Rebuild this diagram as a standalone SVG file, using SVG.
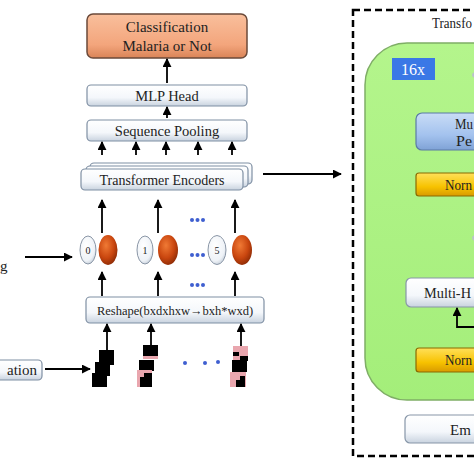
<svg xmlns="http://www.w3.org/2000/svg" width="474" height="474" viewBox="0 0 474 474">
<defs>
<linearGradient id="gWhite" x1="0" y1="0" x2="0" y2="1">
<stop offset="0" stop-color="#ffffff"/><stop offset="0.6" stop-color="#f4f7fb"/><stop offset="1" stop-color="#c9d3df"/>
</linearGradient>
<linearGradient id="gOrange" x1="0" y1="0" x2="0" y2="1">
<stop offset="0" stop-color="#f9bf9c"/><stop offset="0.7" stop-color="#f3a57c"/><stop offset="1" stop-color="#d98457"/>
</linearGradient>
<linearGradient id="gBlue" x1="0" y1="0" x2="0" y2="1">
<stop offset="0" stop-color="#c9dcf6"/><stop offset="0.6" stop-color="#a3c2ee"/><stop offset="1" stop-color="#7fa2d6"/>
</linearGradient>
<linearGradient id="gYellow" x1="0" y1="0" x2="0" y2="1">
<stop offset="0" stop-color="#ffe05a"/><stop offset="0.6" stop-color="#f7c200"/><stop offset="1" stop-color="#d89a00"/>
</linearGradient>
<linearGradient id="gGreen" x1="0" y1="0" x2="0" y2="1">
<stop offset="0" stop-color="#b4f58c"/><stop offset="1" stop-color="#a4ee7a"/>
</linearGradient>
<radialGradient id="gBall" cx="0.4" cy="0.35" r="0.7">
<stop offset="0" stop-color="#f07a35"/><stop offset="0.6" stop-color="#c9460f"/><stop offset="1" stop-color="#8a2a05"/>
</radialGradient>
<radialGradient id="gEgg" cx="0.4" cy="0.35" r="0.75">
<stop offset="0" stop-color="#ffffff"/><stop offset="0.7" stop-color="#eef2f7"/><stop offset="1" stop-color="#b8c3d0"/>
</radialGradient>
<marker id="ah" viewBox="0 0 10 10" refX="9" refY="5" markerWidth="5" markerHeight="5" orient="auto-start-reverse">
<path d="M0,0 L10,5 L0,10 z" fill="#000"/>
</marker>
</defs>
<style>
.t{font-family:"Liberation Serif","DejaVu Serif",serif;fill:#222;text-anchor:middle}
.s{font-family:"Liberation Serif","DejaVu Serif",serif;fill:#222}
.box{fill:url(#gWhite);stroke:#7f8fa3;stroke-width:1.2}
.egg{fill:url(#gEgg);stroke:#8a96a6;stroke-width:1}
.ball{fill:url(#gBall)}
.arr{stroke:#000;stroke-width:1.8;fill:none;marker-end:url(#ah)}
.dot{fill:#3f5fd0}
.blk{fill:#000}
.pink{fill:#e9a6ae}
</style>
<rect width="474" height="474" fill="#fff"/>

<g id="classification">
<rect x="87" y="14" width="160" height="44" rx="6" fill="url(#gOrange)" stroke="#6b4a3a" stroke-width="1.5"/>
<text class="t" x="167" y="32" font-size="15">Classification</text>
<text class="t" x="167" y="51" font-size="15">Malaria or Not</text>
</g>
<g id="mlp-head">
<rect class="box" x="87" y="85" width="160" height="21" rx="4"/>
<text class="t" x="167" y="101" font-size="14.5">MLP Head</text>
</g>
<g id="sequence-pooling">
<rect class="box" x="87" y="120" width="160" height="21" rx="4"/>
<text class="t" x="167" y="136" font-size="14.5">Sequence Pooling</text>
</g>
<g id="transformer-encoders">
<rect class="box" x="90" y="163" width="162" height="21" rx="4"/>
<rect class="box" x="86" y="166" width="162" height="21" rx="4"/>
<rect class="box" x="81" y="169" width="162" height="21" rx="4"/>
<text class="t" x="162" y="185" font-size="14">Transformer Encoders</text>
</g>
<g id="tokens">
<ellipse class="egg" cx="88" cy="250" rx="8" ry="14"/>
<text class="t" x="88" y="254" font-size="10">0</text>
<ellipse class="ball" cx="108" cy="250" rx="9.5" ry="15"/>
<ellipse class="egg" cx="145" cy="250" rx="8" ry="14"/>
<text class="t" x="145" y="254" font-size="10">1</text>
<ellipse class="ball" cx="168" cy="250" rx="10" ry="15"/>
<ellipse class="egg" cx="217" cy="250" rx="9" ry="14.5"/>
<text class="t" x="217" y="254" font-size="10">5</text>
<ellipse class="ball" cx="242" cy="250" rx="10" ry="15"/>
<circle class="dot" cx="192" cy="255" r="2"/><circle class="dot" cx="197.5" cy="255" r="2"/><circle class="dot" cx="203" cy="255" r="2"/>
</g>
<g id="embedding-label">
<text class="s" x="0" y="271" font-size="15">g</text>
</g>
<g id="reshape">
<rect class="box" x="86" y="297" width="178" height="26" rx="4"/>
<text class="t" x="175" y="315" font-size="12.5">Reshape(bxdxhxw→bxh*wxd)</text>
</g>
<g id="patches">
<rect class="blk" x="99" y="350" width="15" height="15"/>
<rect class="blk" x="95" y="362" width="15" height="14"/>
<rect class="blk" x="92" y="373" width="15" height="14"/>
<rect class="blk" x="143" y="345" width="15" height="12"/>
<rect class="pink" x="143" y="356" width="15" height="3"/>
<rect class="blk" x="139" y="360" width="15" height="11"/>
<rect class="pink" x="137" y="370" width="15" height="17"/>
<rect class="blk" x="140" y="377" width="12" height="10"/>
<rect class="blk" x="144" y="373" width="8" height="4"/>
<rect class="pink" x="233" y="346" width="15" height="14"/>
<rect class="blk" x="233" y="352" width="6" height="4"/>
<rect class="blk" x="240" y="356" width="8" height="5"/>
<rect class="blk" x="232" y="360" width="15" height="12"/>
<rect class="pink" x="230" y="372" width="16" height="15"/>
<rect class="blk" x="236" y="380" width="9" height="7"/>
<rect class="blk" x="240" y="376" width="5" height="4"/>
<circle class="dot" cx="185" cy="363" r="2"/><circle class="dot" cx="205" cy="363" r="2"/><circle class="dot" cx="218" cy="362" r="2"/>
</g>
<g id="augmentation">
<rect class="box" x="-20" y="360" width="62" height="20" rx="4"/>
<text class="s" x="37" y="375" text-anchor="end" font-size="15">ation</text>
</g>

<g id="encoder-detail">
<rect x="353" y="10" width="140" height="446" fill="none" stroke="#000" stroke-width="2.5" stroke-dasharray="7,4"/>
<text class="s" x="432" y="28" font-size="15" textLength="40" lengthAdjust="spacingAndGlyphs">Transfo</text>
<rect x="365" y="43" width="150" height="357" rx="42" fill="url(#gGreen)" stroke="#7fae66" stroke-width="1.5"/>
<rect x="392" y="58" width="43" height="22" fill="#3a78e6"/>
<text x="413" y="75" text-anchor="middle" font-family="Liberation Serif, DejaVu Serif, serif" font-size="16" fill="#fff">16x</text>
<ellipse cx="479" cy="75" rx="7" ry="4" fill="#b9c3c9"/>
<rect x="416" y="113" width="70" height="37" rx="6" fill="url(#gBlue)" stroke="#5a7aa6" stroke-width="1.2"/>
<text class="s" x="455" y="129" font-size="14.5" textLength="18" lengthAdjust="spacingAndGlyphs">Mu</text>
<text class="s" x="456" y="146" font-size="14.5" textLength="16" lengthAdjust="spacingAndGlyphs">Pe</text>
<rect x="416" y="173" width="70" height="23" rx="3" fill="url(#gYellow)" stroke="#8a6a00" stroke-width="1.2"/>
<text class="s" x="445" y="190" font-size="15" textLength="27" lengthAdjust="spacingAndGlyphs">Norn</text>
<ellipse cx="479" cy="238" rx="7" ry="4" fill="#b9c3c9"/>
<rect x="406" y="278" width="80" height="29" rx="5" fill="url(#gWhite)" stroke="#8796a8" stroke-width="1.2"/>
<text class="s" x="424" y="298" font-size="15" textLength="47" lengthAdjust="spacingAndGlyphs">Multi-H</text>
<rect x="416" y="348" width="70" height="24" rx="3" fill="url(#gYellow)" stroke="#8a6a00" stroke-width="1.2"/>
<text class="s" x="445" y="365" font-size="15" textLength="27" lengthAdjust="spacingAndGlyphs">Norn</text>
<rect x="405" y="415" width="80" height="28" rx="5" fill="url(#gWhite)" stroke="#8796a8" stroke-width="1.2"/>
<text class="s" x="450" y="435" font-size="15">Em</text>
</g>

<g id="connectors">
<line class="arr" x1="167" y1="83" x2="167" y2="59"/>
<line class="arr" x1="167" y1="118" x2="167" y2="107"/>
<line class="arr" x1="102" y1="155" x2="102" y2="142"/>
<line class="arr" x1="136" y1="155" x2="136" y2="142"/>
<line class="arr" x1="166" y1="155" x2="166" y2="142"/>
<line class="arr" x1="198" y1="155" x2="198" y2="142"/>
<line class="arr" x1="232" y1="155" x2="232" y2="142"/>
<line class="arr" x1="102" y1="233" x2="102" y2="200"/>
<line class="arr" x1="158" y1="233" x2="158" y2="200"/>
<line class="arr" x1="235" y1="233" x2="235" y2="200"/>
<line class="arr" x1="102" y1="296" x2="102" y2="272"/>
<line class="arr" x1="158" y1="296" x2="158" y2="272"/>
<line class="arr" x1="235" y1="296" x2="235" y2="272"/>
<line class="arr" x1="107" y1="350" x2="107" y2="324"/>
<line class="arr" x1="151" y1="345" x2="151" y2="324"/>
<line class="arr" x1="241" y1="346" x2="241" y2="324"/>
<line class="arr" x1="25" y1="257" x2="72" y2="257"/>
<line class="arr" x1="45" y1="369" x2="90" y2="369"/>
<line class="arr" x1="263" y1="174" x2="341" y2="174"/>
<polyline class="arr" points="476,327 457,327 457,308"/>
<circle class="dot" cx="192" cy="220" r="2"/><circle class="dot" cx="197.5" cy="220" r="2"/><circle class="dot" cx="203" cy="220" r="2"/>
<circle class="dot" cx="192" cy="285" r="2"/><circle class="dot" cx="197.5" cy="285" r="2"/><circle class="dot" cx="203" cy="285" r="2"/>
</g>
</svg>
